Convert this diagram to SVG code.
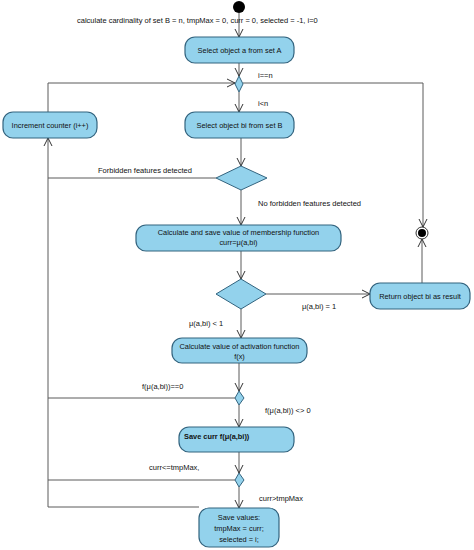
<svg xmlns="http://www.w3.org/2000/svg" width="474" height="550" viewBox="0 0 474 550">
<defs>
<style>
.box{fill:#93d2ec;stroke:#33647f;stroke-width:1.2}
.dia{fill:#93d2ec;stroke:#33647f;stroke-width:1}
.t{font-family:"Liberation Sans",Arial,sans-serif;font-size:7.4px;fill:#111;text-anchor:middle}
.l{font-family:"Liberation Sans",Arial,sans-serif;font-size:7.5px;fill:#111}
.c{fill:none;stroke:#5a5a5a;stroke-width:1}
</style>
<marker id="a" markerWidth="10" markerHeight="10" refX="9" refY="5" orient="auto" markerUnits="userSpaceOnUse">
<path d="M1,1 L9,5 L1,9" fill="none" stroke="#333" stroke-width="1"/>
</marker>
</defs>
<rect width="474" height="550" fill="#fff"/>
<g id="connectors">
<path class="c" d="M239,13 V37" marker-end="url(#a)"/>
<path class="c" d="M239,63 V76" marker-end="url(#a)"/>
<path class="c" d="M243,83 H423 V227" marker-end="url(#a)"/>
<path class="c" d="M48,112 V83 H235" marker-end="url(#a)"/>
<path class="c" d="M239,92 V112" marker-end="url(#a)"/>
<path class="c" d="M241,138 V166" marker-end="url(#a)"/>
<path class="c" d="M216,178 H48"/>
<path class="c" d="M199,507 H48 V138" marker-end="url(#a)"/>
<path class="c" d="M241,190 V225" marker-end="url(#a)"/>
<path class="c" d="M241,251 V279" marker-end="url(#a)"/>
<path class="c" d="M266,294 H370" marker-end="url(#a)"/>
<path class="c" d="M422,283 V239" marker-end="url(#a)"/>
<path class="c" d="M241,309 V338" marker-end="url(#a)"/>
<path class="c" d="M239,363 V391" marker-end="url(#a)"/>
<path class="c" d="M235,398 H48"/>
<path class="c" d="M239,405 V427" marker-end="url(#a)"/>
<path class="c" d="M239,452 V473" marker-end="url(#a)"/>
<path class="c" d="M235,480 H48"/>
<path class="c" d="M239,487 V508" marker-end="url(#a)"/>
</g>
<g id="labels">
<text class="l" x="77" y="23">calculate cardinality of set  B = n, tmpMax = 0, curr = 0, selected = -1, i=0</text>
<text class="l" x="258" y="78">i==n</text>
<text class="l" x="258" y="106">i&lt;n</text>
<text class="l" x="98" y="173">Forbidden features detected</text>
<text class="l" x="258" y="206">No forbidden features detected</text>
<text class="l" x="302" y="309">μ(a,bi) = 1</text>
<text class="l" x="189" y="326">μ(a,bi) &lt; 1</text>
<text class="l" x="142" y="389">f(μ(a,bi))==0</text>
<text class="l" x="265" y="413">f(μ(a,bi)) &lt;&gt; 0</text>
<text class="l" x="149" y="470">curr&lt;=tmpMax,</text>
<text class="l" x="259" y="501">curr&gt;tmpMax</text>
</g>
<g id="start"><circle cx="239" cy="7" r="6" fill="#000"/></g>
<g id="n1"><rect class="box" x="185" y="37" width="109" height="26" rx="10"/><text class="t" x="239.5" y="52.5">Select object a from set A</text></g>
<g id="d1"><path class="dia" d="M239,76 L243,84 L239,92 L235,84 Z"/></g>
<g id="n2"><rect class="box" x="3" y="112" width="94" height="26" rx="10"/><text class="t" x="50" y="127.5">Increment counter (i++)</text></g>
<g id="n3"><rect class="box" x="185" y="112" width="109" height="26" rx="10"/><text class="t" x="239.5" y="127.5">Select object bi from set B</text></g>
<g id="d2"><path class="dia" d="M241,166 L267,178 L241,190 L216,178 Z"/></g>
<g id="n4"><rect class="box" x="136" y="225" width="205" height="26" rx="10"/><text class="t" x="238.5" y="234.5">Calculate and save value of membership function</text><text class="t" x="238.5" y="245">curr=μ(a,bi)</text></g>
<g id="final"><circle cx="422" cy="233" r="6" fill="#fff" stroke="#333" stroke-width="1"/><circle cx="422" cy="233" r="4" fill="#000"/></g>
<g id="d3"><path class="dia" d="M241,279 L266,294 L241,309 L216,294 Z"/></g>
<g id="n5"><rect class="box" x="370" y="283" width="100" height="26" rx="10"/><text class="t" x="420" y="298.5">Return object bi as result</text></g>
<g id="n6"><rect class="box" x="172" y="338" width="135" height="25" rx="10"/><text class="t" x="239.5" y="348.5">Calculate value of activation function</text><text class="t" x="239.5" y="359">f(x)</text></g>
<g id="d4"><path class="dia" d="M239,391 L244,398 L239,405 L235,398 Z"/></g>
<g id="n7"><rect class="box" x="179" y="427" width="115" height="25" rx="10"/><text class="t" x="184" y="438.5" style="text-anchor:start;font-weight:bold">Save curr f(μ(a,bi))</text></g>
<g id="d5"><path class="dia" d="M239,473 L244,480 L239,487 L235,480 Z"/></g>
<g id="n8"><rect class="box" x="199" y="508" width="80" height="39" rx="10"/><text class="t" x="239" y="519.5">Save values:</text><text class="t" x="239" y="530.5">tmpMax = curr;</text><text class="t" x="239" y="541.5">selected = i;</text></g>
</svg>
